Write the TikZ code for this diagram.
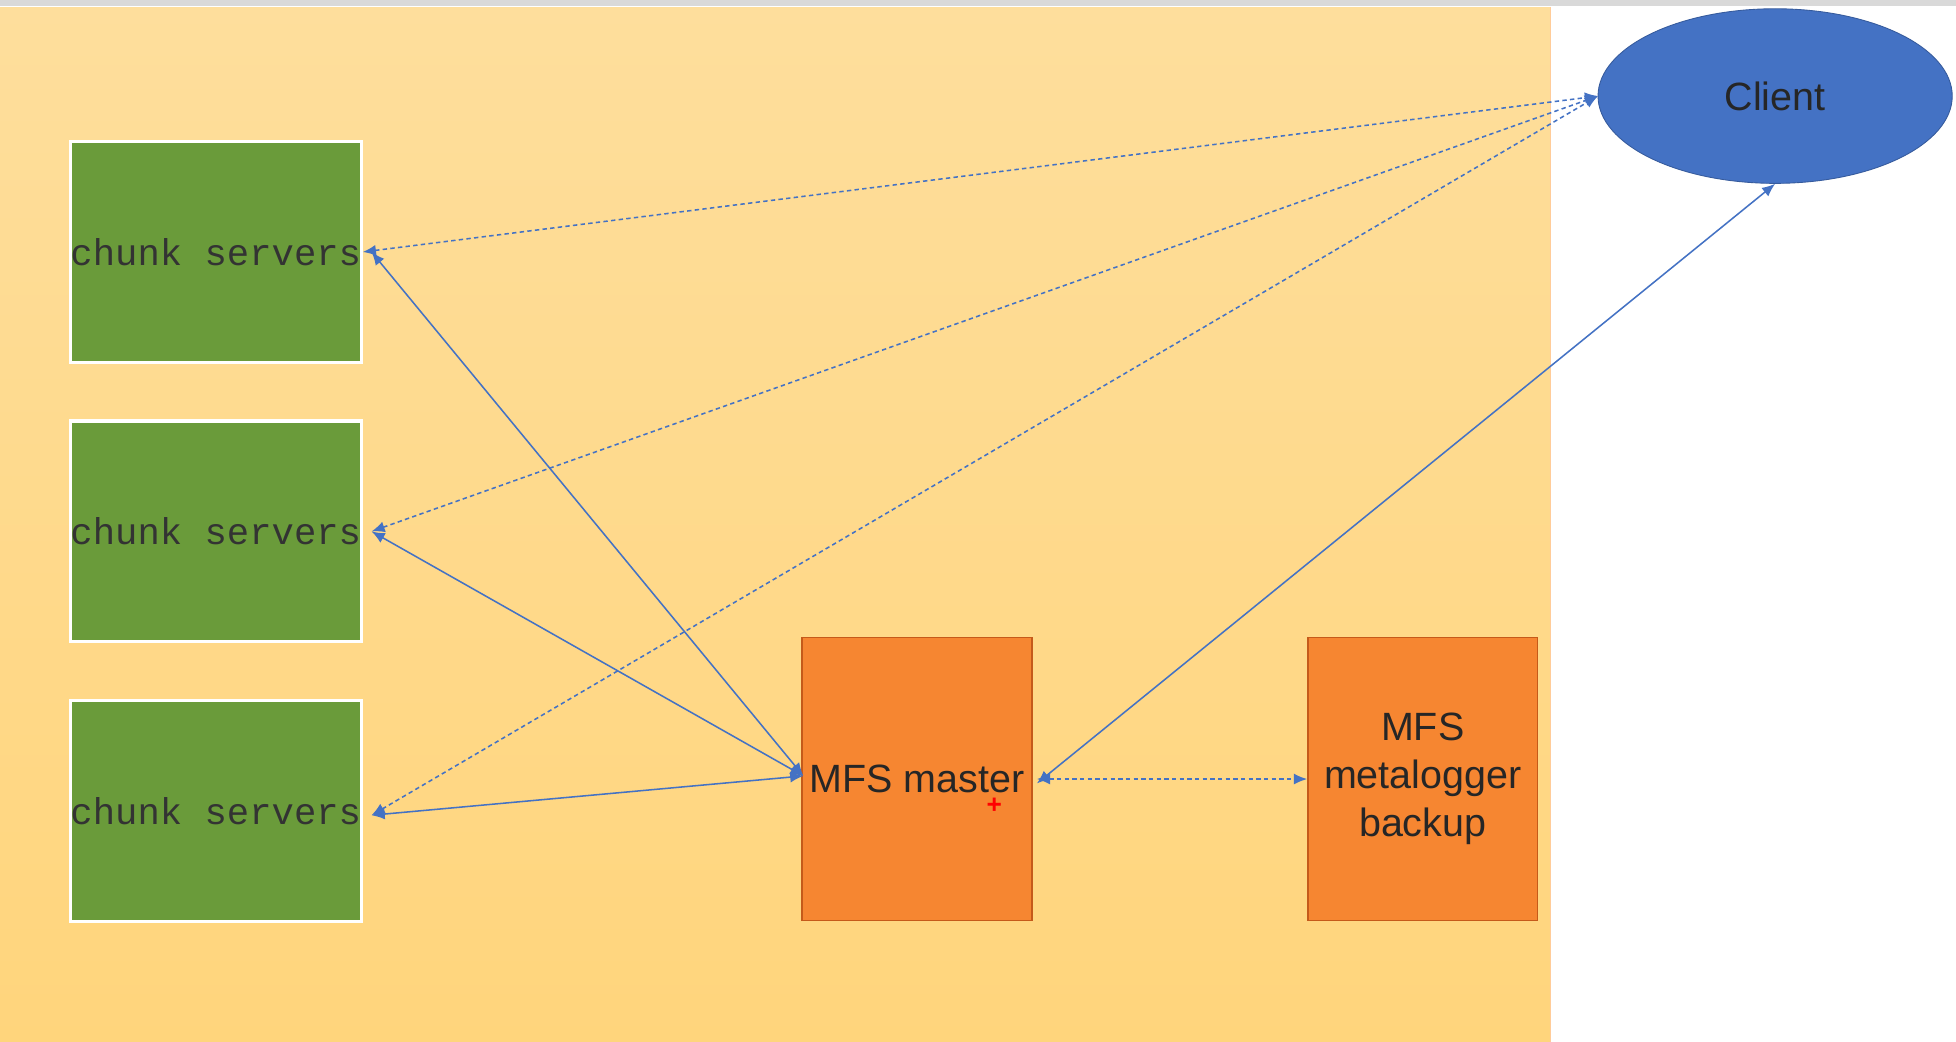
\documentclass[tikz,border=0pt]{standalone}
\usepackage{fontspec}
\setmainfont{Liberation Sans}
\setmonofont{Liberation Mono}
\usetikzlibrary{arrows.meta,shapes.geometric}
\definecolor{bgtop}{HTML}{FEDE9C}
\definecolor{bgbot}{HTML}{FFD57C}
\definecolor{grn}{HTML}{6A9B3A}
\definecolor{org}{HTML}{F68631}
\definecolor{orgb}{HTML}{C55A1A}
\definecolor{blu}{HTML}{4472C4}
\tikzset{
  chunk/.style={draw=white, line width=1.5pt, fill=grn, minimum width=4.52cm, minimum height=3.54cm, inner sep=0pt, font=\ttfamily\fontsize{17}{20}\selectfont, text=black!80},
  mfs/.style={draw=orgb, line width=0.8pt, fill=org, minimum width=3.68cm, minimum height=4.54cm, inner sep=0pt, align=center, font=\fontsize{18}{22}\selectfont, text=black!85},
  conn/.style={blu, line width=0.7pt, {Latex[length=6pt,width=5pt]}-{Latex[length=6pt,width=5pt]}},
  dconn/.style={conn, dash pattern=on 2pt off 1.5pt},
}
\begin{document}
\begin{tikzpicture}[x=0.02cm,y=-0.02cm]
\useasboundingbox (0,0) rectangle (1568,835);
\fill[white] (0,0) rectangle (1568,835);
\fill[gray!30] (0,0) rectangle (1568,5);
\shade[top color=bgtop, bottom color=bgbot] (0,6) rectangle (1243,835);
\draw[orange!40, line width=0.5pt] (1243,6) -- (1243,835);
\node[chunk] (c1) at (173,202) {chunk servers};
\node[chunk] (c2) at (173,426) {chunk servers};
\node[chunk] (c3) at (173,650) {chunk servers};
\node[mfs] (m) at (735,624.5) {MFS master};
\node[mfs] (b) at (1140.5,624.5) {MFS\\metalogger\\backup};
\node[ellipse, draw=blu!80!black, fill=blu, minimum width=5.68cm, minimum height=2.8cm, inner sep=0pt, font=\fontsize{18}{22}\selectfont, text=black!85] (cl) at (1423,77) {Client};
\coordinate (clw) at (1281,77);
\draw[dconn] (c1.east) -- (clw);
\draw[dconn] ([xshift=4pt]c2.east) -- (clw);
\draw[dconn] ([xshift=4pt,yshift=-2pt]c3.east) -- (clw);
\coordinate (mw) at (644,622);
\draw[conn] ([xshift=4pt]c1.east) -- (mw);
\draw[conn] ([xshift=4pt]c2.east) -- (mw);
\draw[conn] ([xshift=4pt,yshift=-2pt]c3.east) -- (mw);
\draw[conn] ([xshift=2pt,yshift=-2pt]m.east) -- (cl.south);
\draw[dconn] ([xshift=2pt]m.east) -- (b.west);
\node[text=red, font=\bfseries\fontsize{12}{12}\selectfont, inner sep=0pt] (plus) at (797,646) {+};
\end{tikzpicture}
\end{document}
